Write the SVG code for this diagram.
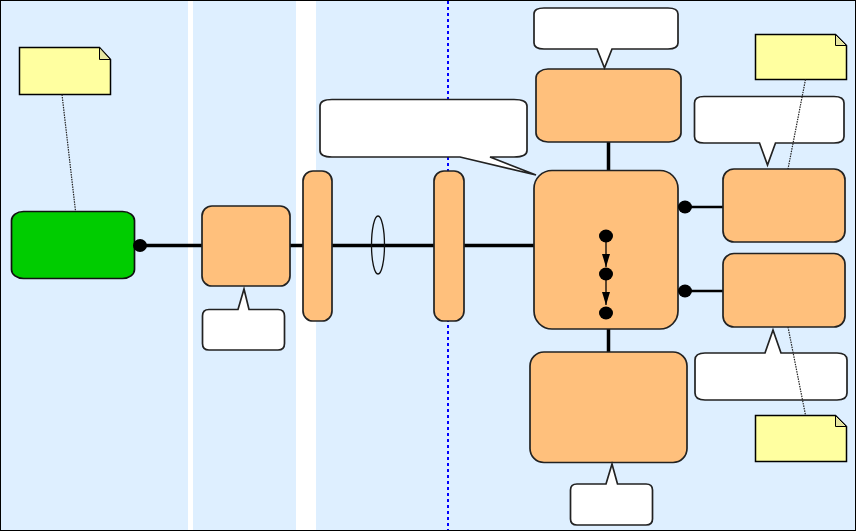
<svg xmlns="http://www.w3.org/2000/svg" width="856" height="531" viewBox="0 0 856 531">
<style>
.band{fill:#deefff}
.n{fill:#ffc07c;stroke:#222;stroke-width:1.700}
.g{fill:#00cc00;stroke:#111;stroke-width:1.700}
.c{fill:#fff;stroke:#222;stroke-width:1.700;stroke-linejoin:miter}
.note{fill:#ffffa0;stroke:#000;stroke-width:1.500}
.fold{fill:#e6e6a0;stroke:#000;stroke-width:1}
.thick{stroke:#000;stroke-width:3.500;fill:none}
.mid{stroke:#000;stroke-width:2.500;fill:none}
.thin{stroke:#000;stroke-width:1.300;fill:none}
.dot{stroke:#222;stroke-width:1.200;stroke-dasharray:1.500 1;fill:none}
.dot2{fill:#000}
</style>
<defs>
<marker id="arr" markerWidth="13" markerHeight="8" refX="13" refY="4" orient="auto" viewBox="0 0 13 8" markerUnits="userSpaceOnUse"><path d="M0 0L13 4L0 8Z" fill="#000"/></marker>
</defs>
<rect width="856" height="531" fill="#fff"/>
<g id="bands">
<rect class="band" x="1" y="1" width="187" height="529"/>
<rect class="band" x="193" y="1" width="103" height="529"/>
<rect class="band" x="316" y="1" width="539" height="529"/>
</g>
<line x1="448" y1="1" x2="448" y2="530" stroke="#0000ff" stroke-width="2" stroke-dasharray="3 3"/>
<g id="connectors">
<path class="thick" d="M134 245.500H534"/>
<path class="thick" d="M608.500 142V170M608.500 329V352"/>
<path class="mid" d="M685 207H723M685 291H723"/>
</g>
<g id="node-ellipse"><ellipse cx="378" cy="245" rx="6.500" ry="29" fill="none" stroke="#111" stroke-width="1.300"/></g>
<g id="node-green"><rect class="g" x="11.500" y="211.500" width="123" height="67" rx="12" ry="9"/><ellipse class="dot2" cx="140" cy="245.500" rx="7" ry="6.500"/></g>
<g id="node-a"><rect class="n" x="202" y="206" width="88" height="80" rx="10"/></g>
<g id="node-b"><rect class="n" x="303" y="171" width="29" height="150" rx="10"/></g>
<g id="node-c"><rect class="n" x="434" y="171" width="30" height="150" rx="10"/></g>
<g id="node-top"><rect class="n" x="536" y="69" width="145" height="73" rx="12" ry="9"/></g>
<g id="node-center"><rect class="n" x="534" y="170.500" width="144" height="158.500" rx="18"/>
<path class="thin" d="M606 236V267" marker-end="url(#arr)"/>
<path class="thin" d="M606 274V305" marker-end="url(#arr)"/>
<ellipse class="dot2" cx="606" cy="236" rx="7" ry="6.500"/><ellipse class="dot2" cx="606" cy="274" rx="7" ry="6.500"/><ellipse class="dot2" cx="606" cy="313" rx="7" ry="6.500"/>
</g>
<g id="node-bottom"><rect class="n" x="530" y="352" width="157" height="110.500" rx="14"/></g>
<g id="node-r1"><rect class="n" x="723" y="169" width="122" height="73" rx="11"/><ellipse class="dot2" cx="685" cy="207" rx="7" ry="6.500"/></g>
<g id="node-r2"><rect class="n" x="723" y="253.500" width="122" height="73.500" rx="11"/><ellipse class="dot2" cx="685" cy="291" rx="7" ry="6.500"/></g>
<g id="callout-a"><path class="c" d="M209 309.500H238L244 289L249 309.500H278Q284.500 309.500 284.500 316V343.500Q284.500 350 278 350H209Q202.500 350 202.500 343.500V316Q202.500 309.500 209 309.500Z"/></g>
<g id="callout-wide"><path class="c" d="M332 99.500H514Q527 99.500 527 106V150.500Q527 157 514 157H490L536 175L460 157H332Q320 157 320 150.500V106Q320 99.500 332 99.500Z"/></g>
<g id="callout-top"><path class="c" d="M544 8H668Q678 8 678 14V43Q678 49 668 49H612L604.500 68L597 49H544Q534 49 534 43V14Q534 8 544 8Z"/></g>
<g id="callout-r1"><path class="c" d="M704 96.500H834Q844 96.500 844 103V136.500Q844 143 834 143H775.500L767.500 165L759.500 143H704Q694.500 143 694.500 136.500V103Q694.500 96.500 704 96.500Z"/></g>
<g id="callout-r2"><path class="c" d="M705 353H765L773 330L781 353H837Q847 353 847 360V393Q847 400 837 400H705Q695 400 695 393V360Q695 353 705 353Z"/></g>
<g id="callout-bottom"><path class="c" d="M577 484H606L612 464L617.500 484H646Q652.500 484 652.500 490V519Q652.500 525 646 525H577Q570.500 525 570.500 519V490Q570.500 484 577 484Z"/></g>
<g id="note-1"><path class="note" d="M19.500 47.500H99.500L110.500 59.500V94.500H19.500Z"/><path class="fold" d="M99.500 47.500V59.500H110.500Z"/></g>
<g id="note-2"><path class="note" d="M755.500 34.500H835.500L846.500 45.500V79.500H755.500Z"/><path class="fold" d="M835.500 34.500V45.500H846.500Z"/></g>
<g id="note-3"><path class="note" d="M755.500 415.500H835.500L846.500 426.500V461.500H755.500Z"/><path class="fold" d="M835.500 415.500V426.500H846.500Z"/></g>
<g id="note-links">
<path class="dot" d="M62 94.500L75.500 211"/>
<path class="dot" d="M805.500 79.500L788 169"/>
<path class="dot" d="M788 327L805.500 415"/>
</g>
<rect x="0.500" y="0.500" width="855" height="530" fill="none" stroke="#000" stroke-width="1"/>
</svg>
